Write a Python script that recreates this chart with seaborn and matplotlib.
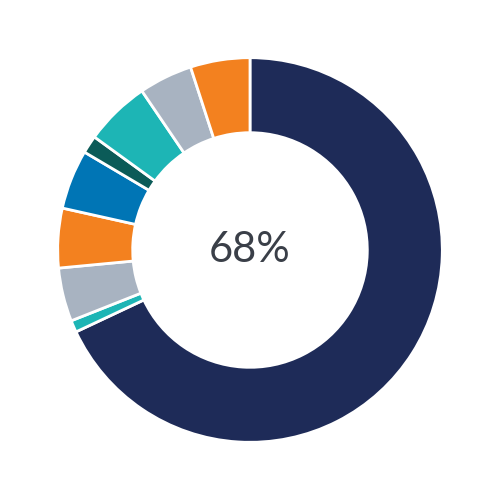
import matplotlib
matplotlib.use("Agg")
import matplotlib.pyplot as plt
import seaborn as sns

shares = [68, 1, 4.5, 5, 5, 1.5, 5.5, 4.5, 5]
colors = ["#1e2b58", "#1db5b5", "#a8b3c1", "#f3811f", "#0075b5",
          "#0b5b58", "#1db5b5", "#a8b3c1", "#f3811f"]
center_label = "68%"

sns.set_theme(style="white")

fig = plt.figure(figsize=(5, 5), dpi=100)
ax = fig.add_axes([0, 0, 1, 1])
ax.pie(shares, colors=colors, startangle=90, counterclock=False,
       wedgeprops=dict(width=0.39, edgecolor="white", linewidth=2))
ax.text(0, 0, center_label, ha="center", va="center", fontsize=30,
        color="#3a3f48", family="Lato")
ax.set_xlim(-1.3, 1.3)
ax.set_ylim(-1.3, 1.3)
ax.set_aspect("equal")
ax.axis("off")
fig.savefig("out.png", dpi=100, facecolor="white")
